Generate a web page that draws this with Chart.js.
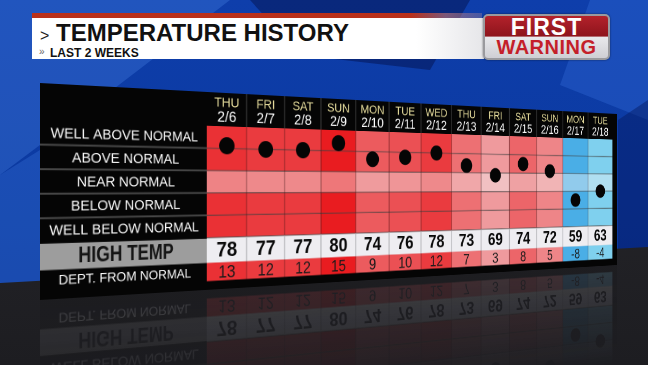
<!DOCTYPE html>
<html lang="en">
<head>
<meta charset="UTF-8">
<title>Temperature History</title>
<script src="https://cdn.jsdelivr.net/npm/chart.js"></script>
<style>
    html, body { margin: 0; padding: 0; }
    body {
        width: 648px; height: 365px; overflow: hidden; position: relative;
        background: linear-gradient(180deg, #0e3eab 0%, #0b399f 60%, #0a3495 100%);
        font-family: Arial, "Liberation Sans", sans-serif;
    }
    .shape { position: absolute; inset: 0; }
    .s1 { background: rgba(80,140,235,0.30); clip-path: polygon(0 0, 230px 0, 60px 130px, 0 175px); }
    .s2 { background: rgba(5,22,85,0.55); clip-path: polygon(250px 0, 470px 0, 430px 70px, 300px 55px); }
    .s3 { background: rgba(60,120,230,0.30); clip-path: polygon(590px 0, 648px 0, 648px 120px, 560px 85px); }
    .s4 { background: rgba(5,25,95,0.45); clip-path: polygon(618px 120px, 648px 100px, 648px 250px, 618px 252px); }
    .s5 { background: rgba(70,130,230,0.28); clip-path: polygon(0 175px, 40px 150px, 40px 285px, 0 285px); }
    .floor {
        position: absolute; inset: 0;
        background: linear-gradient(180deg, #2a2a2f 0%, #1d1d21 100%);
        clip-path: polygon(0 283px, 648px 247px, 648px 365px, 0 365px);
    }
    .stripe {
        position: absolute; left: 32px; top: 13px; width: 450px; height: 5px;
        background: linear-gradient(90deg, #b9301a 0%, #b9301a 84%, rgba(200,120,120,0.6) 92%, rgba(200,150,150,0.3) 100%);
    }
    .banner {
        position: absolute; left: 32px; top: 18px; width: 452px; height: 41px;
        background: linear-gradient(90deg, #ffffff 0%, #ffffff 85%, #e6e6e9 100%);
    }
    .chev { position: absolute; left: 8px; top: 9px; font-size: 16px; color: #222; }
    .title {
        position: absolute; left: 24px; top: 1px; font-size: 24px; font-weight: bold;
        color: #111; letter-spacing: 0; white-space: nowrap;
    }
    .chev2 { position: absolute; left: 7px; top: 28px; font-size: 10px; color: #666; }
    .sub {
        position: absolute; left: 18px; top: 28px; font-size: 12px; font-weight: bold;
        color: #111; white-space: nowrap;
    }
    .logo {
        position: absolute; left: 483px; top: 14px; width: 123px; height: 42px;
        border-radius: 5px; border: 2px solid #9a9a9e;
        background: linear-gradient(180deg, #b3222b 0%, #8e141c 48%, #e9e9ec 50%, #cfcfd4 100%);
        box-shadow: 0 0 2px rgba(0,0,0,0.6);
    }
    .logo .l1 {
        position: absolute; left: 0; right: 0; top: -2px; text-align: center;
        font-size: 23px; font-weight: bold; color: #fff; letter-spacing: 1px;
    }
    .logo .l2 {
        position: absolute; left: 0; right: 0; top: 20px; text-align: center;
        font-size: 20px; font-weight: bold; color: #c41f2a; letter-spacing: 0.5px;
    }
    #board {
        position: absolute; left: 0; top: 0; transform-origin: 0 0;
        -webkit-box-reflect: below 0px linear-gradient(transparent 35%, rgba(255,255,255,0.15));
    }
</style>
</head>
<body>
<div class="shape s1"></div>
<div class="shape s2"></div>
<div class="shape s3"></div>
<div class="shape s4"></div>
<div class="shape s5"></div>
<div class="floor"></div>

<div class="stripe"></div>
<div class="banner">
    <span class="chev">&gt;</span>
    <span class="title">TEMPERATURE HISTORY</span>
    <span class="chev2">&raquo;</span>
    <span class="sub">LAST 2 WEEKS</span>
</div>
<div class="logo">
    <div class="l1">FIRST</div>
    <div class="l2">WARNING</div>
</div>

<div id="board"><canvas id="tableChart" width="830" height="217"></canvas></div>

<script>
    // dados
    const days = ["THU", "FRI", "SAT", "SUN", "MON", "TUE", "WED", "THU", "FRI", "SAT", "SUN", "MON", "TUE"];
    const dates = ["2/6", "2/7", "2/8", "2/9", "2/10", "2/11", "2/12", "2/13", "2/14", "2/15", "2/16", "2/17", "2/18"];
    const highTemps = [78, 77, 77, 80, 74, 76, 78, 73, 69, 74, 72, 59, 63];
    const departures = [13, 12, 12, 15, 9, 10, 12, 7, 3, 8, 5, -8, -4];
    const rowLabels = ["WELL ABOVE NORMAL", "ABOVE NORMAL", "NEAR NORMAL", "BELOW NORMAL", "WELL BELOW NORMAL"];
    const rowEdges = [20, 12, 4, -4, -12, -20];
    const highTempLabel = "HIGH TEMP";
    const deptLabel = "DEPT. FROM NORMAL";

    // layout of the flat board, then bent into perspective
    const W = 830, H = 217, panelW = 183, headerH = 37;
    const htBottom = -29, yMin = -35.5;
    const corners = [40, 83, 617, 114, 617, 265, 40, 300];

    function quadMatrix(w, h, q) {
        const [x0, y0, x1, y1, x2, y2, x3, y3] = q;
        const dx1 = x1 - x2, dx2 = x3 - x2, dx3 = x0 - x1 + x2 - x3;
        const dy1 = y1 - y2, dy2 = y3 - y2, dy3 = y0 - y1 + y2 - y3;
        const den = dx1 * dy2 - dx2 * dy1;
        const g = (dx3 * dy2 - dx2 * dy3) / den;
        const k = (dx1 * dy3 - dx3 * dy1) / den;
        const a = x1 - x0 + g * x1, b = x3 - x0 + k * x3;
        const d = y1 - y0 + g * y1, e = y3 - y0 + k * y3;
        return [a / w, d / w, 0, g / w, b / h, e / h, 0, k / h, 0, 0, 1, 0, x0, y0, 0, 1];
    }
    document.getElementById("board").style.transform = "matrix3d(" + quadMatrix(W, H, corners).join(",") + ")";

    function deptColor(d) {
        if (d >= 0) {
            return [Math.round(240 - 0.5 * d), Math.max(20, Math.round(185 - 10.5 * d)), Math.max(24, Math.round(188 - 10.4 * d))];
        }
        return [Math.max(30, Math.round(180 + 13.25 * d)), Math.round(242 + 8.5 * d), Math.round(246 + 2 * d)];
    }
    const rgb = c => `rgb(${c[0]},${c[1]},${c[2]})`;
    const lighten = (c, f) => c.map(v => Math.round(v + (244 - v) * f));

    function narrowText(ctx, text, cx, cy, sx) {
        ctx.save();
        ctx.translate(cx, cy);
        ctx.scale(sx, 1);
        ctx.fillText(text, 0, 0);
        ctx.restore();
    }

    const tablePlugin = {
        id: "table",
        beforeDatasetsDraw(chart) {
            const { ctx, width, height, chartArea: a, scales: { x, y } } = chart;
            const colW = (a.right - a.left) / days.length;
            const htTop = y.getPixelForValue(rowEdges[rowEdges.length - 1]);
            const htBot = y.getPixelForValue(htBottom);
            ctx.save();
            ctx.fillStyle = "#050505";
            ctx.fillRect(0, 0, width, height);

            // painel da esquerda
            ctx.fillStyle = "#474747";
            rowEdges.slice(1, -1).forEach(v => ctx.fillRect(0, y.getPixelForValue(v) - 1, a.left, 2));
            ctx.fillStyle = "#9d9d9d";
            ctx.fillRect(0, htTop + 1, a.left, htBot - htTop - 1);

            // células
            departures.forEach((d, i) => {
                const left = x.getPixelForValue(i) - colW / 2;
                const base = deptColor(d);
                for (let r = 0; r < rowLabels.length; r++) {
                    const t = y.getPixelForValue(rowEdges[r]);
                    const b = y.getPixelForValue(rowEdges[r + 1]);
                    ctx.fillStyle = rgb(r === 2 ? lighten(base, 0.42) : base);
                    ctx.fillRect(left, t, colW, b - t);
                }
                ctx.fillStyle = "#eeedf1";
                ctx.fillRect(left, htTop, colW, htBot - htTop);
                ctx.fillStyle = rgb(base);
                ctx.fillRect(left, htBot, colW, a.bottom - htBot);
            });

            // linhas
            ctx.fillStyle = "rgba(70,70,70,0.55)";
            rowEdges.slice(1).forEach(v => ctx.fillRect(a.left, y.getPixelForValue(v) - 0.75, a.right - a.left, 1.5));
            for (let i = 1; i < days.length; i++) {
                const px = a.left + i * colW;
                ctx.fillStyle = "#333";
                ctx.fillRect(px - 0.75, 0, 1.5, a.top);
                ctx.fillStyle = "rgba(60,20,20,0.35)";
                ctx.fillRect(px - 0.75, a.top, 1.5, htTop - a.top);
                ctx.fillStyle = "#b8b8bc";
                ctx.fillRect(px - 0.75, htTop, 1.5, htBot - htTop);
                ctx.fillStyle = "rgba(60,20,20,0.3)";
                ctx.fillRect(px - 0.75, htBot, 1.5, a.bottom - htBot);
            }

            // textos
            ctx.textAlign = "center";
            ctx.textBaseline = "middle";
            const midX = a.left / 2;
            ctx.fillStyle = "#ffffff";
            ctx.font = "15px Arial, 'Liberation Sans', sans-serif";
            rowLabels.forEach((lab, r) => {
                const cy = y.getPixelForValue((rowEdges[r] + rowEdges[r + 1]) / 2) + 1;
                narrowText(ctx, lab, midX, cy, 0.98);
            });
            ctx.fillStyle = "#151515";
            ctx.font = "bold 23px Arial, 'Liberation Sans', sans-serif";
            narrowText(ctx, highTempLabel, midX, (htTop + htBot) / 2 + 1, 0.82);
            ctx.fillStyle = "#ffffff";
            ctx.font = "14px Arial, 'Liberation Sans', sans-serif";
            narrowText(ctx, deptLabel, midX, (htBot + a.bottom) / 2 + 1, 0.98);

            days.forEach((day, i) => {
                const cx = x.getPixelForValue(i);
                ctx.fillStyle = "#e6dc9c";
                ctx.font = "15px Arial, 'Liberation Sans', sans-serif";
                ctx.fillText(day, cx, a.top * 0.31);
                ctx.fillStyle = "#ffffff";
                ctx.font = "17px Arial, 'Liberation Sans', sans-serif";
                ctx.fillText(dates[i], cx, a.top * 0.74);
                ctx.fillStyle = "#0a0a0a";
                ctx.font = "bold 23px Arial, 'Liberation Sans', sans-serif";
                ctx.fillText(String(highTemps[i]), cx, (htTop + htBot) / 2 + 1);
                ctx.fillStyle = "#1a1a1a";
                ctx.font = "19px Arial, 'Liberation Sans', sans-serif";
                ctx.fillText(String(departures[i]), cx, (htBot + a.bottom) / 2 + 1.5);
            });
            ctx.restore();
        }
    };

    new Chart(document.getElementById("tableChart"), {
        type: "line",
        data: {
            labels: dates,
            datasets: [{
                data: departures,
                showLine: false,
                pointRadius: 9.5,
                pointHoverRadius: 9.5,
                pointBorderWidth: 0,
                pointBackgroundColor: "#050505",
                borderColor: "#050505"
            }]
        },
        options: {
            responsive: false,
            animation: false,
            devicePixelRatio: 2,
            layout: { padding: { left: panelW, top: headerH, right: 0, bottom: 0 } },
            plugins: { legend: { display: false }, tooltip: { enabled: false } },
            scales: {
                x: { type: "category", offset: true, display: false },
                y: { type: "linear", min: yMin, max: rowEdges[0], display: false }
            }
        },
        plugins: [tablePlugin]
    });
</script>
</body>
</html>
